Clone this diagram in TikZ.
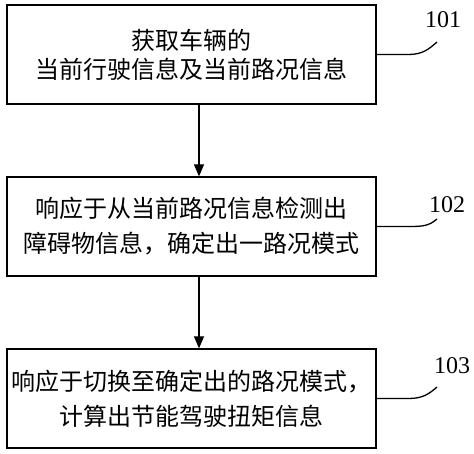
\documentclass[tikz,border=0pt]{standalone}
\usepackage{fontspec}
\setmainfont{Liberation Serif}
\newfontfamily\cjk{Noto Sans CJK SC}
\usetikzlibrary{arrows.meta}
\tikzset{
  stepbox/.style = {draw, line width=1.3pt, minimum width=369pt, minimum height=99pt,
    align=center, inner sep=0pt, font=\cjk\fontsize{24}{35}\selectfont},
  leader/.style = {line width=1.3pt},
  flow/.style = {line width=1.3pt, -{Triangle[length=12pt,width=10pt]}},
  refnum/.style = {font=\fontsize{24}{24}\selectfont, inner sep=0pt}
}
\begin{document}
\begin{tikzpicture}[x=1pt, y=-1pt]
  \useasboundingbox (0,0) rectangle (474,454);
  % steps
  \node[stepbox, font=\cjk\fontsize{24}{29}\selectfont] (s1) at (191.5, 54.5)
    {获取车辆的\\当前行驶信息及当前路况信息};
  \node[stepbox] (s2) at (191.5, 226.5)
    {响应于从当前路况信息检测出\\障碍物信息，确定出一路况模式};
  \node[stepbox] (s3) at (191.5, 398.5)
    {响应于切换至确定出的路况模式，\\计算出节能驾驶扭矩信息};
  % arrows
  \draw[flow] ([xshift=7.5pt]s1.south) -- ([xshift=7.5pt]s2.north);
  \draw[flow] ([xshift=7.5pt]s2.south) -- ([xshift=7.5pt]s3.north);
  % reference numbers
  \coordinate (e1) at (437, 42);
  \coordinate (e2) at (437, 219);
  \coordinate (e3) at (437, 387);
  \node[refnum] (n1) at (443, 20) {101};
  \node[refnum] (n2) at (447, 205) {102};
  \node[refnum] (n3) at (452, 366) {103};
  \draw[leader] (s1.east) -- ++(32,0) .. controls +(14,0) and +(-8,7) .. (e1);
  \draw[leader] (s2.east) -- ++(32,0) .. controls +(14,0) and +(-8,7) .. (e2);
  \draw[leader] (s3.east) -- ++(32,0) .. controls +(14,0) and +(-8,7) .. (e3);
\end{tikzpicture}
\end{document}
